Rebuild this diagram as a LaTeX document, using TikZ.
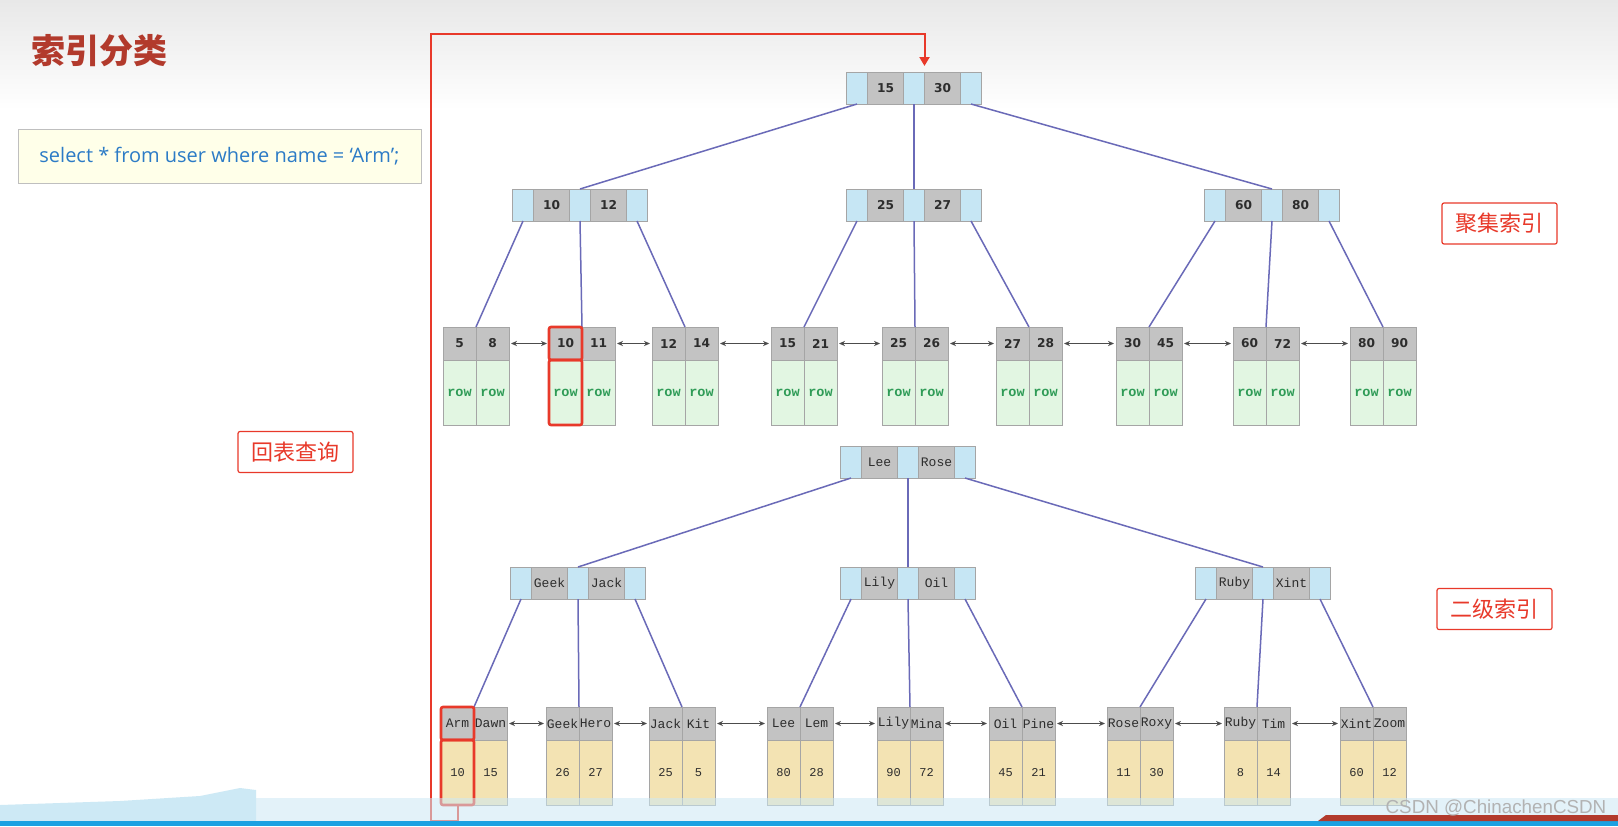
\documentclass[tikz,border=0pt]{standalone}
\usepackage{fontspec}
\usetikzlibrary{positioning, arrows.meta}
\newfontfamily\cjkfont{Noto Sans CJK SC}
\newfontfamily\sqlfont{Open Sans}
\newfontfamily\numfont{DejaVu Sans}
\newfontfamily\codefont{Liberation Mono}
\newfontfamily\markfont{Liberation Sans}
\definecolor{ptrblue}{RGB}{198,230,244}
\definecolor{keygrey}{RGB}{195,195,195}
\definecolor{cellline}{RGB}{165,165,165}
\definecolor{keytext}{RGB}{45,45,45}
\definecolor{rowgreen}{RGB}{226,246,226}
\definecolor{rowtext}{RGB}{46,155,86}
\definecolor{valyellow}{RGB}{243,227,179}
\definecolor{treeline}{RGB}{106,106,184}
\definecolor{backred}{RGB}{232,57,42}
\definecolor{titlered}{RGB}{178,58,44}
\definecolor{sqlfill}{RGB}{255,255,233}
\definecolor{sqltext}{RGB}{44,123,198}
\definecolor{bandblue}{RGB}{205,233,245}
\definecolor{barblue}{RGB}{27,161,226}

% inner node of a B+ tree: pointer, key, pointer, key, pointer
\newcommand{\bnode}[6][kcell]{%
    \node[pcell] (#2-p2) at (#3,#4) {};
    \node[#1, left=0pt of #2-p2] (#2-k1) {#5};
    \node[pcell, left=0pt of #2-k1] (#2-p1) {};
    \node[#1, right=0pt of #2-p2] (#2-k2) {#6};
    \node[pcell, right=0pt of #2-k2] (#2-p3) {};
}

\begin{document}
\begin{tikzpicture}[x=0.5pt, y=-0.5pt,
    cell/.style={draw=cellline, line width=0.5pt, inner sep=0pt, outer sep=0pt},
    pcell/.style={cell, fill=ptrblue, minimum width=10.5pt, minimum height=16pt},
    kcell/.style={cell, fill=keygrey, minimum width=18pt, minimum height=16pt,
        text=keytext, font=\numfont\bfseries\fontsize{6.1}{7}\selectfont},
    nkcell/.style={kcell, font=\codefont\fontsize{6.5}{7}\selectfont},
    ckey/.style={cell, fill=keygrey, minimum width=16.5pt, minimum height=16.5pt,
        text=keytext, font=\numfont\bfseries\fontsize{6.1}{7}\selectfont},
    skey/.style={ckey, font=\codefont\fontsize{6.5}{7}\selectfont},
    rowcell/.style={cell, fill=rowgreen, minimum width=16.5pt, minimum height=32.5pt,
        text=rowtext, font=\codefont\bfseries\fontsize{6.8}{8}\selectfont},
    valcell/.style={cell, fill=valyellow, minimum width=16.5pt, minimum height=32.5pt,
        text=keytext, font=\codefont\fontsize{6}{7}\selectfont},
    tline/.style={draw=treeline, line width=0.75pt},
    linkarrow/.style={{Stealth[length=3pt,width=2.6pt]}-{Stealth[length=3pt,width=2.6pt]},
        draw=black!70, line width=0.5pt, shorten <=1pt, shorten >=1pt},
    hlbox/.style={draw=backred, line width=1.3pt, rounded corners=1pt},
    backpath/.style={draw=backred, line width=1pt, -{Triangle[length=4.5pt,width=5pt]},
        shorten >=3pt},
    lblbox/.style={draw=backred, line width=0.6pt, fill=white, text=backred,
        rounded corners=1pt, minimum width=57.5pt, minimum height=20.5pt,
        font=\cjkfont\fontsize{11}{13}\selectfont}
]
    \useasboundingbox (0,0) rectangle (1618,826);

    % Background
    \fill[white] (0,0) rectangle (1618,826);
    \shade[top color=gray!18, bottom color=white] (0,0) rectangle (1618,110);

    % Title and query
    \node[font=\cjkfont\bfseries\fontsize{17}{20}\selectfont, text=titlered] (title) at (100,51) {索引分类};
    \node[draw=gray!50, fill=sqlfill, minimum width=201.5pt, minimum height=27pt, inner sep=0pt,
        text=sqltext, font=\sqlfont\fontsize{10}{12}\selectfont] (query) at (219.5,156)
        {select * from user where name = ‘Arm’;};

    % Clustered index
    \bnode{cr}{914}{88}{15}{30}
    \bnode{ca}{580}{205}{10}{12}
    \bnode{cb}{914}{205}{25}{27}
    \bnode{cc}{1272}{205}{60}{80}
    \foreach \i/\cx/\ka/\kb in {1/476/5/8, 2/582/10/11, 3/685/12/14, 4/804/15/21,
        5/915/25/26, 6/1029/27/28, 7/1149/30/45, 8/1266/60/72, 9/1383/80/90}{
        \node[ckey, anchor=north east] (ckl\i) at (\cx,327) {\ka};
        \node[ckey, right=0pt of ckl\i] (ckr\i) {\kb};
        \node[rowcell, below=0pt of ckl\i] (cdl\i) {row};
        \node[rowcell, below=0pt of ckr\i] (cdr\i) {row};
    }
    \foreach \p/\c in {p1/ca, p2/cb, p3/cc}
        \draw[tline] (cr-\p.south) -- (\c-p2.north);
    \foreach \n/\p/\i in {ca/p1/1, ca/p2/2, ca/p3/3, cb/p1/4, cb/p2/5, cb/p3/6,
        cc/p1/7, cc/p2/8, cc/p3/9}
        \draw[tline] (\n-\p.south) -- (ckl\i.north east);
    \foreach \i in {1,...,8}{
        \pgfmathtruncatemacro{\j}{\i+1}
        \draw[linkarrow] (ckr\i.east) -- (ckl\j.west);
    }

    % Secondary index
    \bnode[nkcell]{sr}{908}{462}{Lee}{Rose}
    \bnode[nkcell]{sa}{578}{583}{Geek}{Jack}
    \bnode[nkcell]{sb}{908}{583}{Lily}{Oil}
    \bnode[nkcell]{sc}{1263}{583}{Ruby}{Xint}
    \foreach \i/\cx/\ka/\kb/\va/\vb in {1/474/Arm/Dawn/10/15, 2/579/Geek/Hero/26/27,
        3/682/Jack/Kit/25/5, 4/800/Lee/Lem/80/28, 5/910/Lily/Mina/90/72,
        6/1022/Oil/Pine/45/21, 7/1140/Rose/Roxy/11/30, 8/1257/Ruby/Tim/8/14,
        9/1373/Xint/Zoom/60/12}{
        \node[skey, anchor=north east] (skl\i) at (\cx,707) {\ka};
        \node[skey, right=0pt of skl\i] (skr\i) {\kb};
        \node[valcell, below=0pt of skl\i] (sdl\i) {\va};
        \node[valcell, below=0pt of skr\i] (sdr\i) {\vb};
    }
    \foreach \p/\c in {p1/sa, p2/sb, p3/sc}
        \draw[tline] (sr-\p.south) -- (\c-p2.north);
    \foreach \n/\p/\i in {sa/p1/1, sa/p2/2, sa/p3/3, sb/p1/4, sb/p2/5, sb/p3/6,
        sc/p1/7, sc/p2/8, sc/p3/9}
        \draw[tline] (\n-\p.south) -- (skl\i.north east);
    \foreach \i in {1,...,8}{
        \pgfmathtruncatemacro{\j}{\i+1}
        \draw[linkarrow] (skr\i.east) -- (skl\j.west);
    }

    % Highlighted entries
    \draw[hlbox] (ckl2.north west) rectangle (ckl2.south east);
    \draw[hlbox] (cdl2.north west) rectangle (cdl2.south east);
    \draw[hlbox] (skl1.north west) rectangle (skl1.south east);
    \draw[hlbox] (sdl1.north west) rectangle (sdl1.south east);

    % Lookup back to the clustered index
    \coordinate (backB) at (431,821);
    \coordinate (backT) at (431,34);
    \draw[backpath] (sdl1.south) |- (backB) -- (backT) -| (cr-p2.north east);

    % Labels
    \node[lblbox] (lblcluster) at (1499.5,223.5) {聚集索引};
    \node[lblbox] (lblsecond) at (1494.5,609) {二级索引};
    \node[lblbox] (lblback) at (295.5,452) {回表查询};

    % Bottom strip
    \fill[bandblue] (0,805) -- (120,801) -- (200,796) -- (240,788) -- (256,790)
        -- (256,822) -- (0,822) -- cycle;
    \fill[bandblue, opacity=0.55] (256,798) rectangle (1618,822);
    \fill[barblue] (0,821) rectangle (1618,826);
    \fill[titlered] (1318,821) -- (1326,815) -- (1618,815) -- (1618,821) -- cycle;
    \node[font=\markfont\fontsize{9.4}{11}\selectfont, text=gray!60] (mark) at (1496,808)
        {CSDN @ChinachenCSDN};
\end{tikzpicture}
\end{document}
